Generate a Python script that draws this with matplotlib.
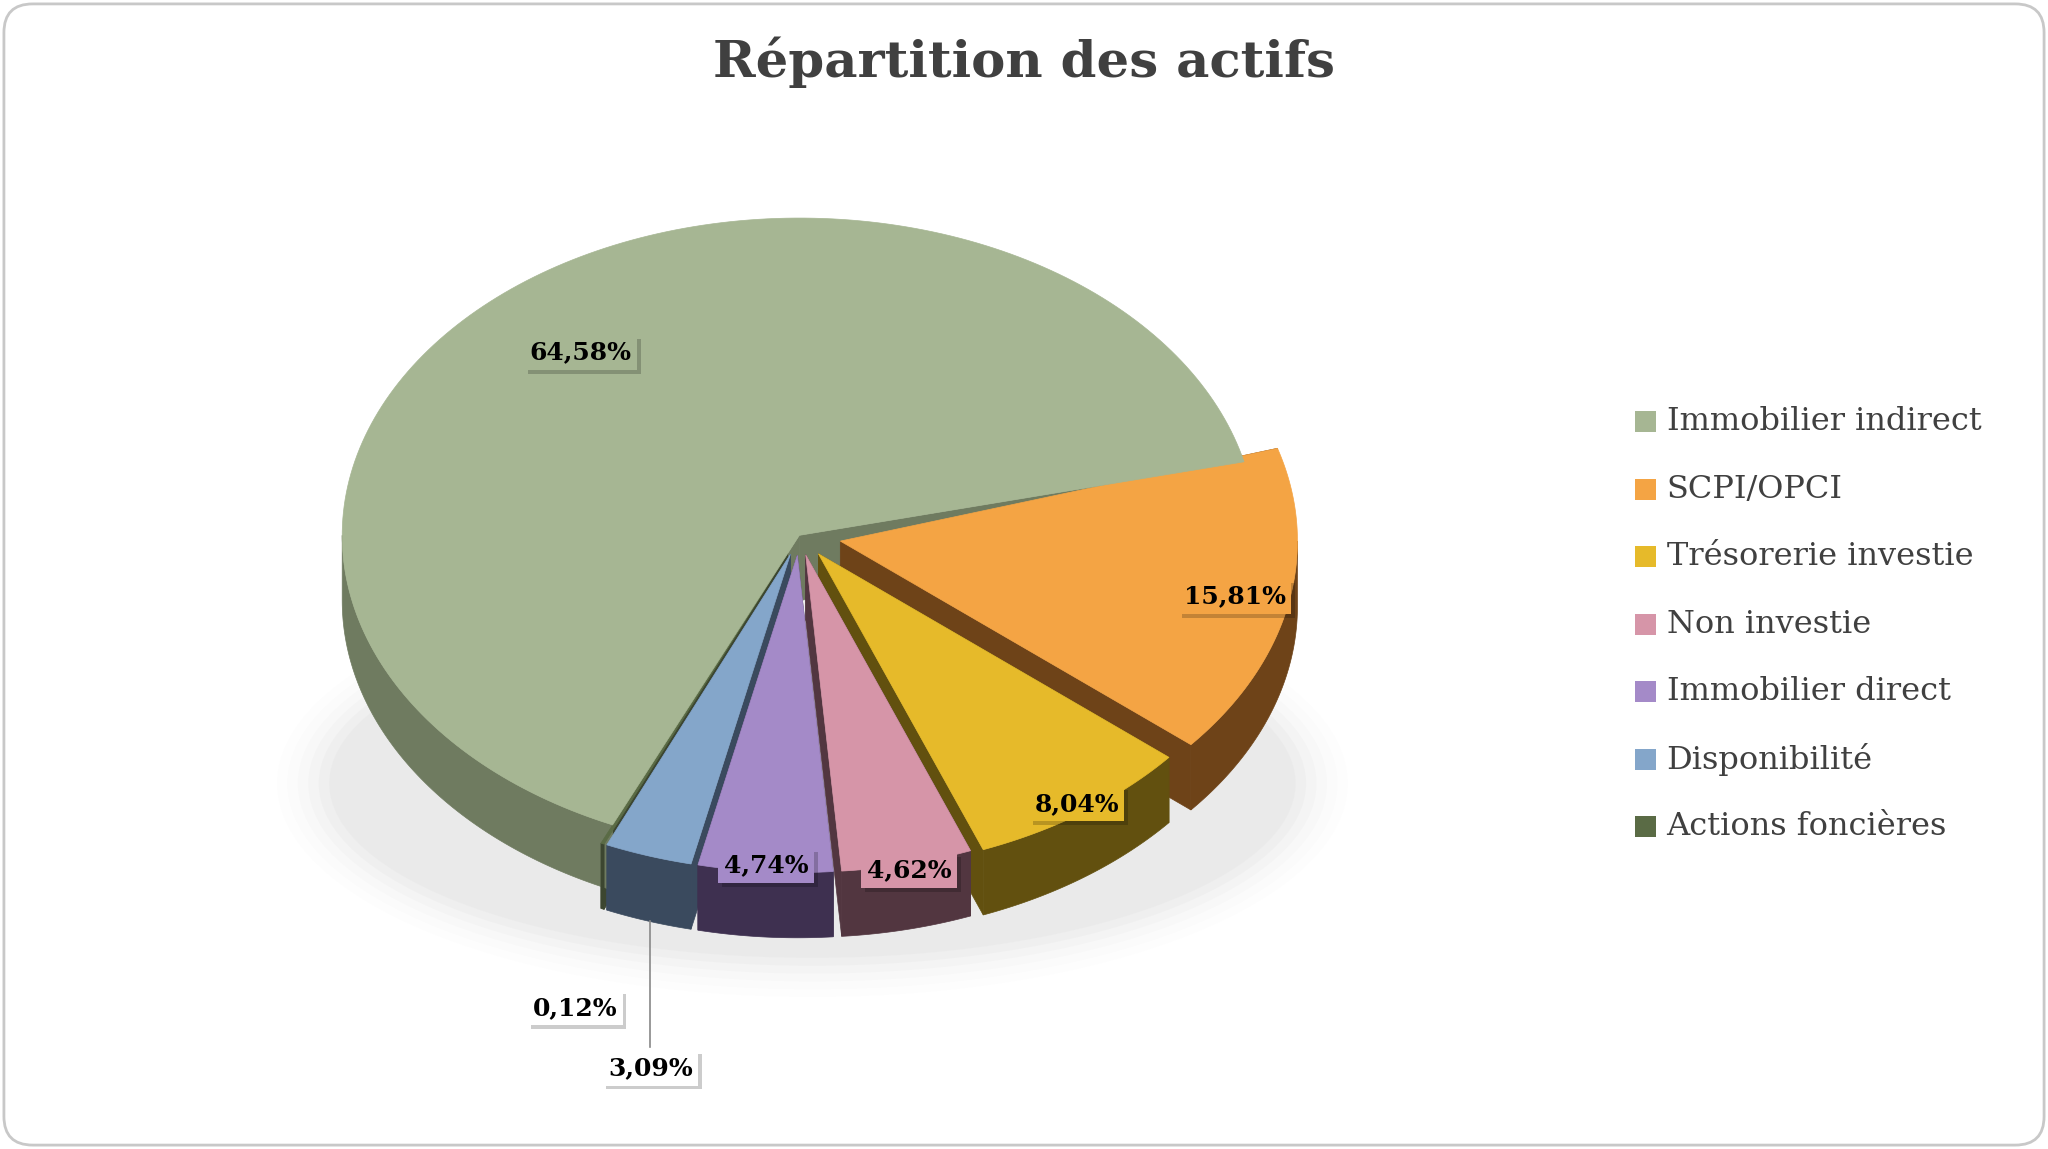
import numpy as np
import matplotlib
matplotlib.use("Agg")
import matplotlib.pyplot as plt
from matplotlib.patches import Polygon, FancyBboxPatch, Rectangle, Ellipse

categories = ["SCPI/OPCI", "Trésorerie investie", "Non investie", "Immobilier direct",
              "Disponibilité", "Actions foncières", "Immobilier indirect"]
values = [15.81, 8.04, 4.62, 4.74, 3.09, 0.12, 64.58]
labels = ["15,81%", "8,04%", "4,62%", "4,74%", "3,09%", "0,12%", "64,58%"]
legend_order = ["Immobilier indirect", "SCPI/OPCI", "Trésorerie investie", "Non investie",
                "Immobilier direct", "Disponibilité", "Actions foncières"]

top_colors = {"Immobilier indirect": "#A6B693", "SCPI/OPCI": "#F4A444", "Trésorerie investie": "#E6BA2A",
              "Non investie": "#D695A8", "Immobilier direct": "#A48AC8", "Disponibilité": "#84A6CA",
              "Actions foncières": "#5A6B45"}
side_colors = {"Immobilier indirect": "#6F7B60", "SCPI/OPCI": "#6E4318", "Trésorerie investie": "#62500F",
               "Non investie": "#523640", "Immobilier direct": "#3E3050", "Disponibilité": "#3A4A5E",
               "Actions foncières": "#3C4630"}
explode = [32, 25, 22, 22, 22, 22, 0]
label_r = [0.88, 0.97, 1.02, 0.98, None, None, 0.75]

SERIF = ["DejaVu Serif"]
fig = plt.figure(figsize=(20.48, 11.49), dpi=100)
ax = fig.add_axes([0, 0, 1, 1])
ax.set_xlim(0, 1568); ax.set_ylim(880, 0); ax.axis("off")

ax.add_patch(FancyBboxPatch((3, 3), 1562, 874, boxstyle="round,pad=0,rounding_size=22",
                            fc="white", ec="#C8C8C8", lw=2, zorder=0))
ax.text(784, 48, "Répartition des actifs", ha="center", va="center", fontsize=37,
        fontweight="bold", color="#404040", family=SERIF)

cx, cy, rx, ry, D = 612, 410, 350, 243, 50
for i, a in enumerate(np.linspace(0.05, 0.012, 6)):
    ax.add_patch(Ellipse((cx + 10, cy + 190), 2 * (rx + 20 + i * 8), 2 * (ry * 0.55 + i * 6),
                         fc="#999999", ec="none", alpha=a, zorder=1))

def pt(c, t, r=1.0):
    return (c[0] + rx * r * np.cos(np.radians(t)), c[1] - ry * r * np.sin(np.radians(t)))

start = 17.0
slices = []
for cat, v, e in zip(categories, values, explode):
    t2 = start; t1 = start - v * 3.6; start = t1
    mid = (t1 + t2) / 2
    c = (cx + e * np.cos(np.radians(mid)), cy - e * np.sin(np.radians(mid)) * ry / rx)
    slices.append((cat, t1, t2, c))

walls = []
for cat, t1, t2, c in slices:
    col = side_colors[cat]
    for k in range(-1, 2):
        a, b = max(t1, 180 + 360 * k), min(t2, 360 + 360 * k)
        if b > a:
            ts = np.linspace(a, b, 80)
            top = [pt(c, t) for t in ts]
            bot = [(x, y + D) for x, y in top[::-1]]
            walls.append((np.mean([p[1] for p in top]) + 100, top + bot, col))
    for t in (t1, t2):
        p = pt(c, t)
        poly = [c, p, (p[0], p[1] + D), (c[0], c[1] + D)]
        walls.append((np.mean([q[1] for q in poly]), poly, col))
walls.sort(key=lambda w: w[0])
for _, poly, col in walls:
    ax.add_patch(Polygon(poly, closed=True, fc=col, ec=col, lw=0.5, zorder=2))

for cat, t1, t2, c in slices:
    ts = np.linspace(t1, t2, 200)
    poly = [c] + [pt(c, t) for t in ts]
    ax.add_patch(Polygon(poly, closed=True, fc=top_colors[cat], ec=top_colors[cat], lw=0.5, zorder=3))

def box_label(x, y, s, fc):
    ax.text(x + 3, y + 3, s, ha="center", va="center", fontsize=18, fontweight="bold",
            color=(0, 0, 0, 0), family=SERIF, zorder=4,
            bbox=dict(boxstyle="square,pad=0.22", fc="#00000033", ec="none"))
    ax.text(x, y, s, ha="center", va="center", fontsize=18, fontweight="bold",
            color="black", family=SERIF, zorder=5,
            bbox=dict(boxstyle="square,pad=0.22", fc=fc, ec="none"))

for (cat, t1, t2, c), lab, r in zip(slices, labels, label_r):
    if r is None:
        continue
    x, y = pt(c, (t1 + t2) / 2, r)
    box_label(x, y, lab, top_colors[cat])

small = {"Disponibilité": (498, 818), "Actions foncières": (440, 772)}
for (cat, t1, t2, c), lab in zip(slices, labels):
    if cat in small:
        x, y = small[cat]
        if cat == "Disponibilité":
            px = pt(c, (t1 + t2) / 2)
            ax.plot([x, x], [px[1] + D, y - 16], color="#888888", lw=1.2, zorder=4)
        box_label(x, y, lab, "white")

for i, cat in enumerate(legend_order):
    y = 323 + i * 51.7
    ax.add_patch(Rectangle((1252, y - 8), 16, 16, fc=top_colors[cat], ec="none", zorder=3))
    ax.text(1276, y, cat, ha="left", va="center", fontsize=23, color="#404040", family=SERIF)

fig.savefig("out.png", dpi=100)
